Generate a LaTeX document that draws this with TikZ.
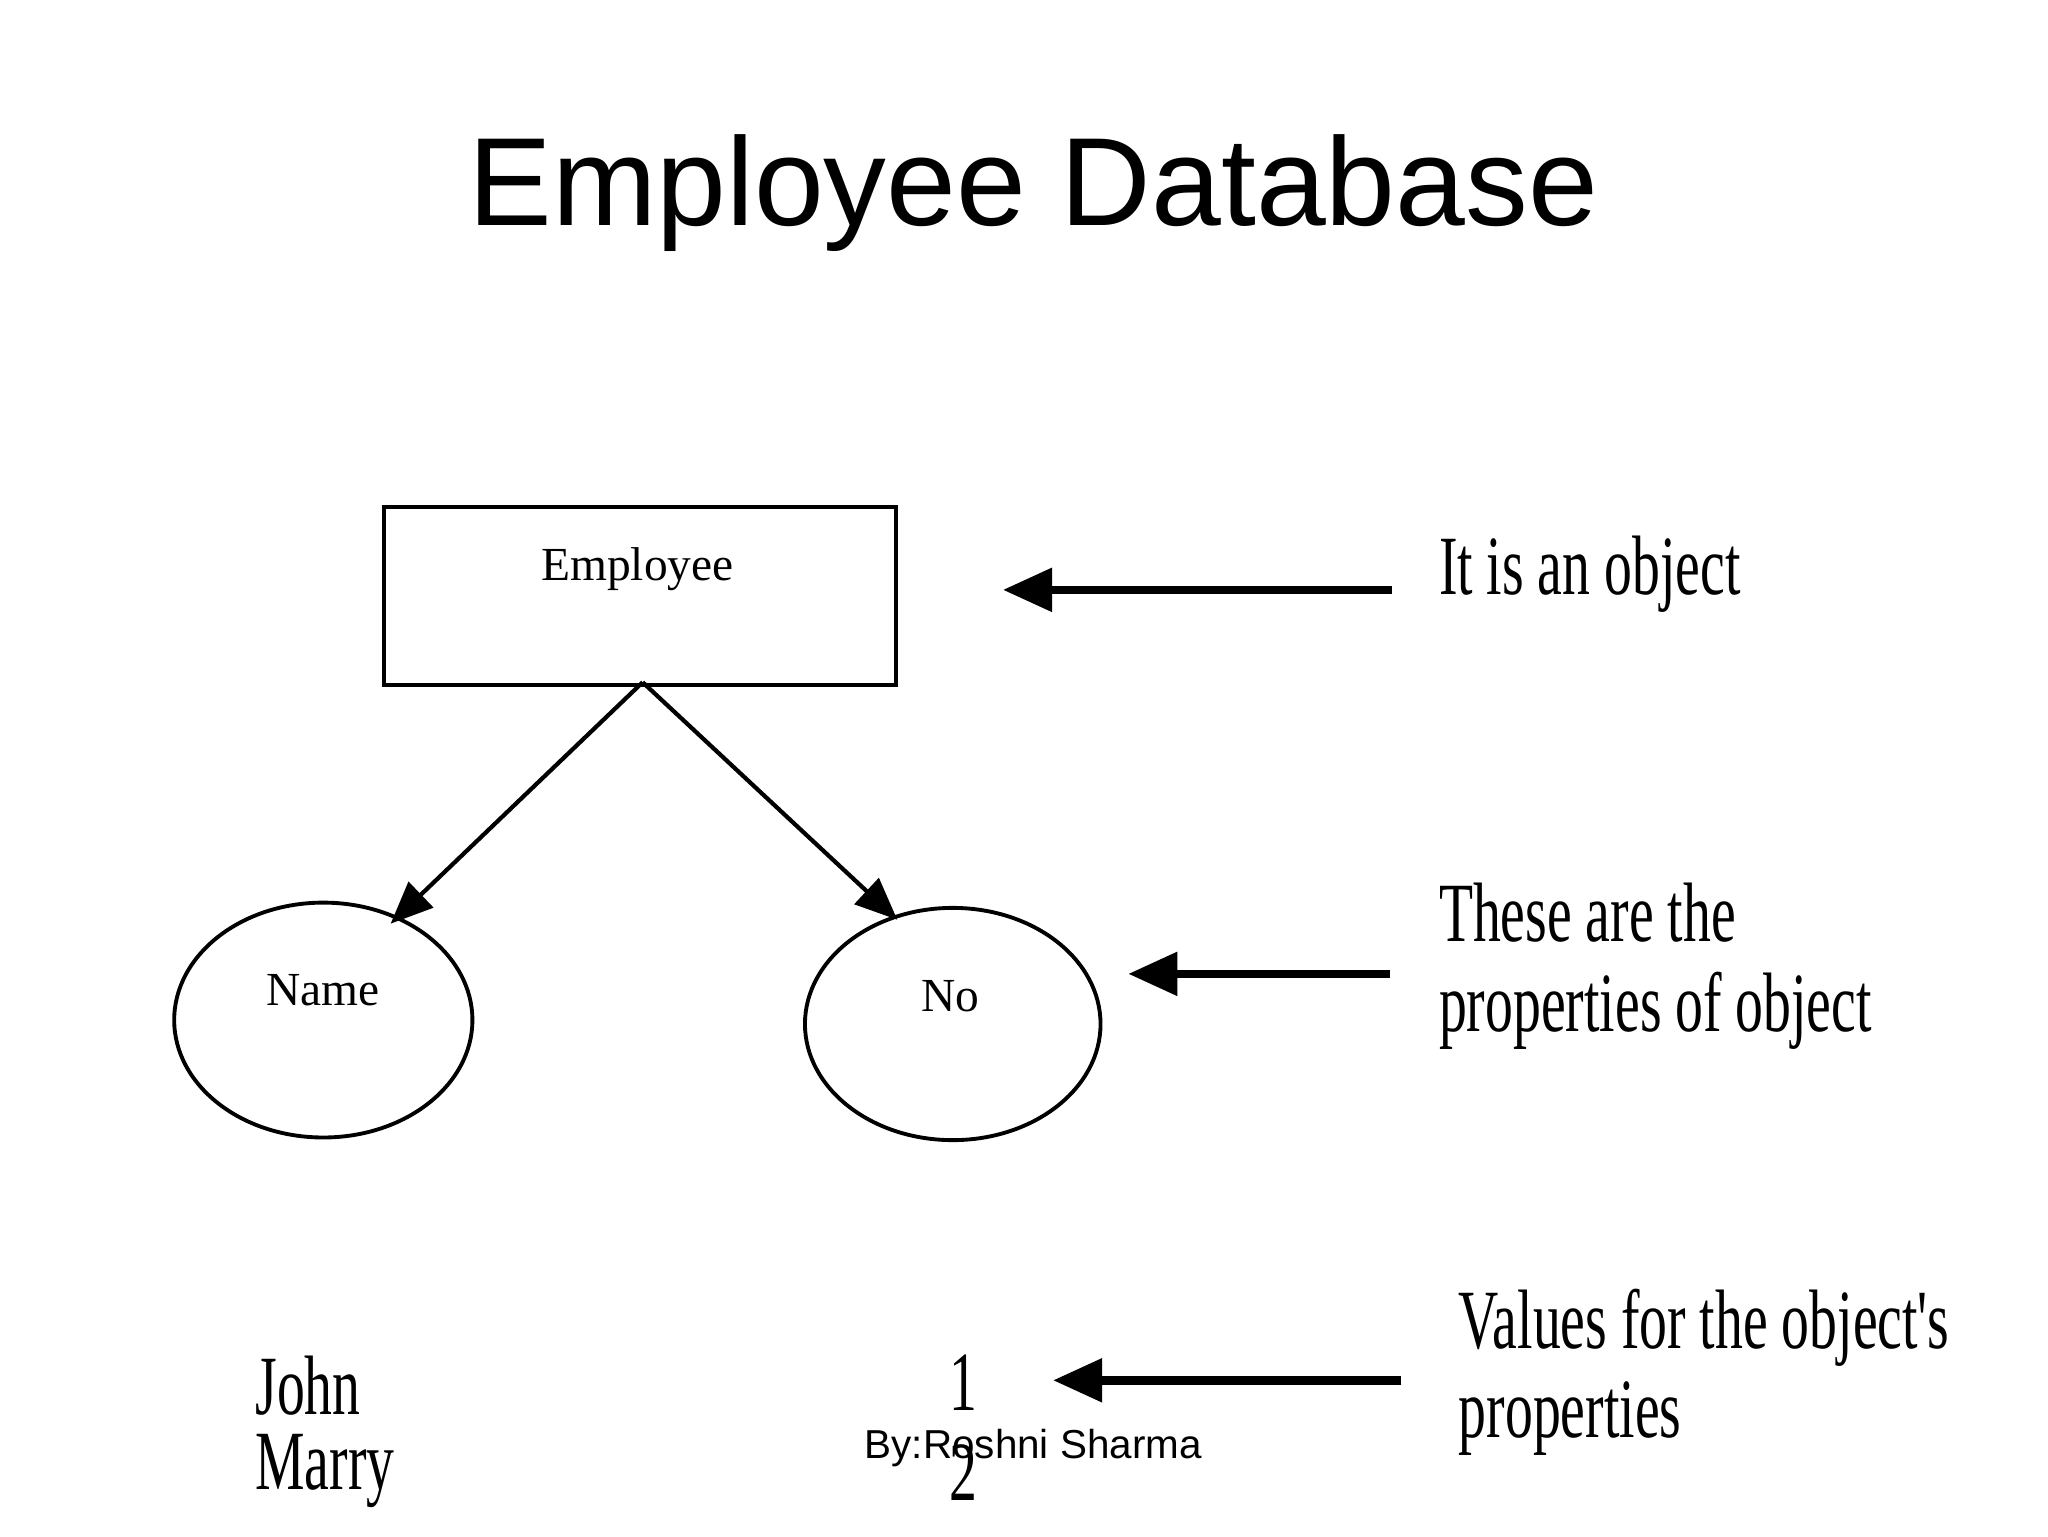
\documentclass[tikz,border=0pt]{standalone}
\usepackage{fontspec}
\setmainfont{Liberation Serif}
\setsansfont{Liberation Sans}
\newfontfamily\cond[FakeStretch=0.66]{Liberation Serif}
\usetikzlibrary{arrows.meta,shapes.geometric}
\begin{document}
\begin{tikzpicture}[x=0.0132cm,y=-0.0132cm,
  lbl/.style={font=\cond\fontsize{24}{25.5}\selectfont, inner sep=0, align=left, anchor=west},
  small/.style={font=\fontsize{13.5}{16}\selectfont, inner sep=0},
  bigarrow/.style={line width=2.4pt, -{Triangle[length=14pt,width=12pt]}},
  thinarrow/.style={line width=1.2pt, -{Triangle[length=12pt,width=10pt]}}]
\useasboundingbox (0,0) rectangle (1552,1164);
\node (title) at (783,146) {\sffamily\fontsize{35.7}{40}\selectfont Employee Database};
\node[draw, line width=1.2pt, minimum width=388*0.0132cm, minimum height=135*0.0132cm] (emp) at (485,451.5) {};
\node[small] (empt) at (483,431) {Employee};
\node[draw, ellipse, line width=1.1pt, minimum width=226*0.0132cm, minimum height=178*0.0132cm] (name) at (245,773) {};
\node[draw, ellipse, line width=1.1pt, minimum width=224*0.0132cm, minimum height=176*0.0132cm] (no) at (722,776) {};
\node[small] at (245,750) {Name};
\node[small] at (720,755) {No};
\coordinate (top) at (487,517);
\coordinate (ntip) at (296,700);
\coordinate (otip) at (680,697);
\draw[thinarrow] (top) -- (ntip);
\draw[thinarrow] (top) -- (otip);
\node[lbl] (t1) at (1090,435) {It is an object};
\node[lbl] (t2) at (1090,732) {These are the\\properties of object};
\node[lbl] (t3) at (1105,1040) {Values for the object's\\properties};
\coordinate (a1s) at (1055,447); \coordinate (a1e) at (760,447);
\coordinate (a2s) at (1053,738); \coordinate (a2e) at (855,738);
\coordinate (a3s) at (1062,1046); \coordinate (a3e) at (798,1046);
\draw[bigarrow] (a1s) -- (a1e);
\draw[bigarrow] (a2s) -- (a2e);
\draw[bigarrow] (a3s) -- (a3e);
\node[lbl] (john) at (193,1050) {John};
\node[lbl] (marry) at (193,1115) {Marry};
\node[lbl, anchor=center] (one) at (730,1048) {1};
\node[lbl, anchor=center] (two) at (730,1116) {2};
\node (by) at (783,1097) {\sffamily\fontsize{11.5}{13}\selectfont By:Roshni Sharma};
\end{tikzpicture}
\end{document}
